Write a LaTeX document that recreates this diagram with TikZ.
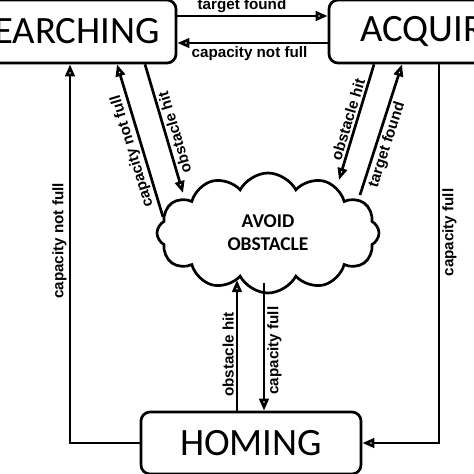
\documentclass[tikz,border=0pt]{standalone}
\usepackage{fontspec}
\setmainfont{Carlito}
\newfontfamily\labfont{Liberation Sans}
\usetikzlibrary{arrows.meta,shapes.symbols}
\begin{document}
\begin{tikzpicture}[x=1pt,y=-1pt, line width=2.7pt,
  box/.style={draw, rounded corners=9pt, font=\fontsize{38.7}{40}\selectfont, inner sep=0pt},
  arr/.style={-{Triangle[open,length=12pt,width=9.5pt]}},
  rarr/.style={{Triangle[open,length=12pt,width=9.5pt]}-},
  lab/.style={font=\labfont\bfseries\fontsize{15.2}{16}\selectfont, inner sep=2pt}]
\useasboundingbox (0,0) rectangle (474,474);
\clip (0,0) rectangle (474,474);
\node[box, minimum width=216pt, minimum height=63pt] (S) at (68,31.5) {SEARCHING};
\node[box, minimum width=246pt, minimum height=63pt] (A) at (452,31.5) {ACQUIRING};
\node[box, minimum width=220pt, minimum height=62pt] (H) at (251,443) {HOMING};
\node[cloud, draw, cloud puffs=12, cloud puff arc=125, cloud ignores aspect,
      minimum width=222pt, minimum height=120pt, align=center, inner sep=0pt,
      font=\bfseries\fontsize{19.5}{23}\selectfont] (C) at (268,233) {AVOID\\OBSTACLE};
\coordinate (c1) at (163,217);
\coordinate (c2) at (183,193);
\coordinate (c3) at (339,180);
\coordinate (c4) at (360,195);
\coordinate (c5) at (237,280);
\coordinate (c6) at (264,283);
% top
\draw[arr] ([yshift=15.5pt]S.east) -- node[lab, above, pos=0.43]{target found} ([yshift=15.5pt]A.west);
\draw[arr] ([yshift=-11.5pt]A.west) -- node[lab, below, pos=0.52]{capacity not full} ([yshift=-11.5pt]S.east);
% outer
\draw[arr] (H.west) -| node[lab, rotate=90, anchor=south, pos=0.767]{capacity not full} ([xshift=2pt]S.south);
\draw[arr] ([xshift=-13pt]A.south) |- node[lab, rotate=90, anchor=north, pos=0.222]{capacity full} (H.east);
% middle verticals
\draw[arr] ([xshift=-14pt]H.north) -- node[lab, rotate=90, anchor=south, pos=0.43]{obstacle hit} (c5);
\draw[arr] (c6) -- node[lab, rotate=90, anchor=north, pos=0.53]{capacity full} ([xshift=13pt]H.north);
% diagonals
\draw[arr] (c1) -- node[lab, sloped, allow upside down, above, pos=0.45]{capacity not full} ([xshift=49pt]S.south);
\draw[rarr] (c2) -- node[lab, sloped, allow upside down, below, pos=0.45]{obstacle hit} ([xshift=77pt]S.south);
\draw[rarr] (c3) -- node[lab, sloped, above, pos=0.5]{obstacle hit} ([xshift=-78pt]A.south);
\draw[arr] (c4) -- node[lab, sloped, below, pos=0.41]{target found} ([xshift=-50pt]A.south);
\end{tikzpicture}
\end{document}
